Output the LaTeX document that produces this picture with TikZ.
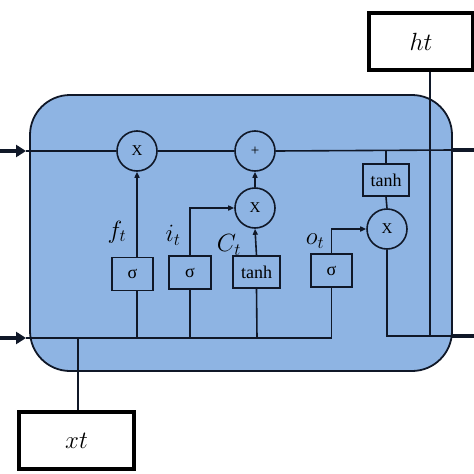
\documentclass[tikz,border=0pt]{standalone}
\usepackage{fontspec}
\setmainfont{Liberation Serif}
\usetikzlibrary{arrows.meta}
\definecolor{cellblue}{RGB}{142,180,227}
\definecolor{ink}{RGB}{16,24,40}
\begin{document}
\begin{tikzpicture}[x=1pt,y=-1pt,
  line width=1.6pt, draw=ink,
  op/.style={circle, draw=ink, line width=1.6pt, minimum size=40pt, inner sep=0pt, font=\fontsize{15}{15}\selectfont},
  gate/.style={rectangle, draw=ink, line width=1.6pt, minimum height=33pt, inner sep=0pt, font=\fontsize{18}{18}\selectfont},
  io/.style={rectangle, draw=black, line width=4pt, minimum height=57pt, inner sep=0pt, fill=white, font=\fontsize{31}{31}\selectfont},
  lab/.style={font=\fontsize{23}{23}\selectfont, inner sep=0pt},
  small/.style={-{Triangle[length=6pt,width=5pt]}},
  big/.style={line width=4pt,-{Triangle[length=10pt,width=12pt]}},
  thick edge/.style={line width=4pt}]
\useasboundingbox (0,0) rectangle (474,474);
% cell body
\draw[fill=cellblue, draw=ink, line width=1.8pt, rounded corners=40pt] (30,95) rectangle (452,371);
% nodes
\node[op] (x1) at (137,151) {X};
\node[op] (pl) at (255,151) {+};
\node[op] (x2) at (255,208) {X};
\node[op] (x3) at (387,229) {X};
\node[gate, minimum width=41pt] (sf) at (132.5,274) {σ};
\node[gate, minimum width=42pt] (si) at (190,272.5) {σ};
\node[gate, minimum width=47pt, minimum height=32pt] (tc) at (256.5,272) {tanh};
\node[gate, minimum width=41pt] (so) at (331.5,270.5) {σ};
\node[gate, minimum width=46pt, minimum height=32pt] (th) at (386,180) {tanh};
\node[io, minimum width=104pt] (ht) at (421,41.5) {$ht$};
\node[io, minimum width=115pt] (xt) at (76.5,440.5) {$xt$};
% labels
\node[lab] (lf) at (117,232) {$f_t$};
\node[lab] (li) at (173,235) {$i_t$};
\node[lab] (lc) at (229,245) {$C_t$};
\node[lab] (lo) at (315,241) {$o_t$};
% coordinates
\coordinate (cin) at (0,151);
\coordinate (cl) at (26,151);
\coordinate (cr) at (452,150);
\coordinate (cend) at (474,150);
\coordinate (hin) at (0,338);
\coordinate (hl) at (26,338);
\coordinate (jf) at (137,338);
\coordinate (ji) at (190,338);
\coordinate (jt) at (257,338);
\coordinate (jx) at (78,338);
\coordinate (hr) at (452,336);
\coordinate (hend) at (474,336);
\coordinate (jh) at (430,336);
\coordinate (jth) at (386,150);
% cell state line
\draw[big] (cin) -- (cl);
\draw (cl) -- (x1.west);
\draw (x1.east) -- (pl.west);
\draw (pl.east) -- (cr);
\draw[thick edge] (cr) -- (cend);
% hidden input line
\draw[big] (hin) -- (hl);
\draw (hl) -| (so.south);
\draw (jf) -- (jf |- sf.south);
\draw (ji) -- (si.south);
\draw (jt) -- (tc.south);
\draw (jx |- xt.north) -- (jx);
% gates to ops
\draw[small] (jf |- sf.north) -- (x1.south);
\draw[small] (si.north) |- (x2.west);
\draw[small] (tc.north) -- (x2.south);
\draw[small] (x2.north) -- (pl.south);
\draw[small] (so.north) |- (x3.west);
\draw (jth) -- (th.north);
\draw (th.south) -- (x3.north);
% output
\draw (x3.south) |- (hr);
\draw[thick edge] (hr) -- (hend);
\draw (jh |- ht.south) -- (jh);
\end{tikzpicture}
\end{document}
